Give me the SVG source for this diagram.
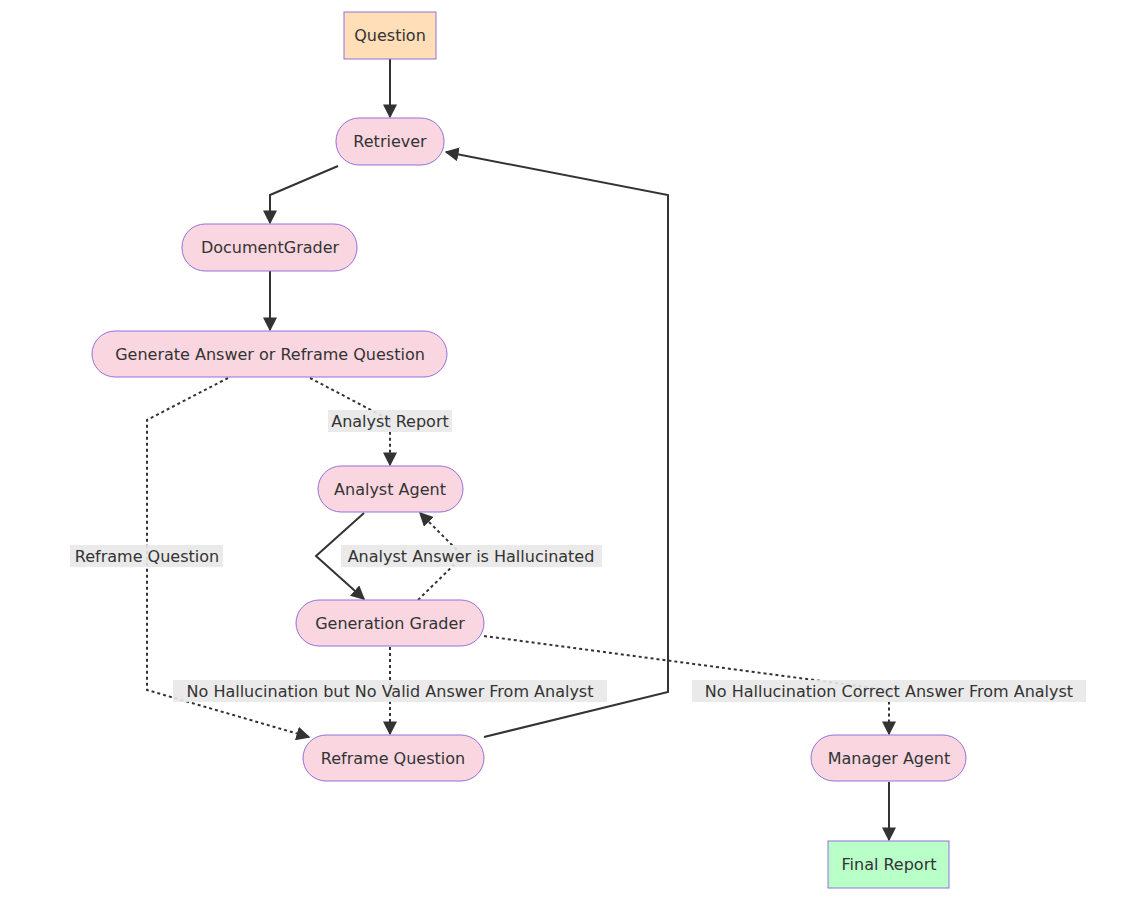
<svg xmlns="http://www.w3.org/2000/svg" width="1139" height="898" viewBox="0 0 1139 898">
<style>
text{font-family:"DejaVu Sans","Liberation Sans",sans-serif;font-size:16px;fill:#333;text-anchor:middle;dominant-baseline:central}
.n{fill:#f9d6e0;stroke:#9370db;stroke-width:1}
.e{fill:none;stroke:#333;stroke-width:2}
.d{stroke-dasharray:3 3}
.lb{fill:#e8e8e8;opacity:0.9}
</style>
<defs><marker id="a" viewBox="0 0 10 10" refX="9" refY="5" markerWidth="7" markerHeight="7" orient="auto"><path d="M0,0L10,5L0,10z" fill="#333"/></marker></defs>
<rect width="1139" height="898" fill="#fff"/>
<g id="edges">
<path class="e" d="M390,59V117" marker-end="url(#a)"/>
<path class="e" d="M338,166L270,195V223" marker-end="url(#a)"/>
<path class="e" d="M270,271V330" marker-end="url(#a)"/>
<path class="e d" d="M310,378L390,420V465" marker-end="url(#a)"/>
<path class="e d" d="M228,378L147,420V690L309,737" marker-end="url(#a)"/>
<path class="e" d="M364,513L316,556L364,599" marker-end="url(#a)"/>
<path class="e d" d="M418,600L463,556L420,513" marker-end="url(#a)"/>
<path class="e d" d="M390,647V734" marker-end="url(#a)"/>
<path class="e d" d="M484,636L889,690V734" marker-end="url(#a)"/>
<path class="e" d="M484,737L668,692V195L446,152" marker-end="url(#a)"/>
<path class="e" d="M889,782V840" marker-end="url(#a)"/>
<rect class="lb" x="328" y="410" width="124" height="22"/><text x="390" y="421">Analyst Report</text>
<rect class="lb" x="70" y="545" width="153" height="22"/><text x="147" y="556">Reframe Question</text>
<rect class="lb" x="341" y="545" width="261" height="22"/><text x="471" y="556">Analyst Answer is Hallucinated</text>
<rect class="lb" x="173" y="680" width="434" height="22"/><text x="390" y="691">No Hallucination but No Valid Answer From Analyst</text>
<rect class="lb" x="692" y="680" width="394" height="22"/><text x="889" y="691">No Hallucination Correct Answer From Analyst</text>
</g>
<g id="question"><rect x="344" y="12" width="92" height="47" fill="#ffdeb8" stroke="#9370db"/><text x="390" y="35">Question</text></g>
<g id="retriever"><rect class="n" x="336" y="118" width="108" height="47" rx="23"/><text x="390" y="141">Retriever</text></g>
<g id="docgrader"><rect class="n" x="182" y="224" width="175" height="47" rx="23"/><text x="270" y="247">DocumentGrader</text></g>
<g id="generate"><rect class="n" x="92" y="331" width="355" height="46" rx="23"/><text x="270" y="354">Generate Answer or Reframe Question</text></g>
<g id="analyst"><rect class="n" x="318" y="466" width="145" height="46" rx="23"/><text x="390" y="489">Analyst Agent</text></g>
<g id="gengrader"><rect class="n" x="296" y="600" width="188" height="46" rx="23"/><text x="390" y="623">Generation Grader</text></g>
<g id="reframe"><rect class="n" x="303" y="735" width="181" height="46" rx="23"/><text x="393" y="758">Reframe Question</text></g>
<g id="manager"><rect class="n" x="811" y="735" width="155" height="46" rx="23"/><text x="889" y="758">Manager Agent</text></g>
<g id="final"><rect x="828" y="841" width="121" height="47" fill="#b8ffc8" stroke="#9370db"/><text x="889" y="864">Final Report</text></g>
</svg>
